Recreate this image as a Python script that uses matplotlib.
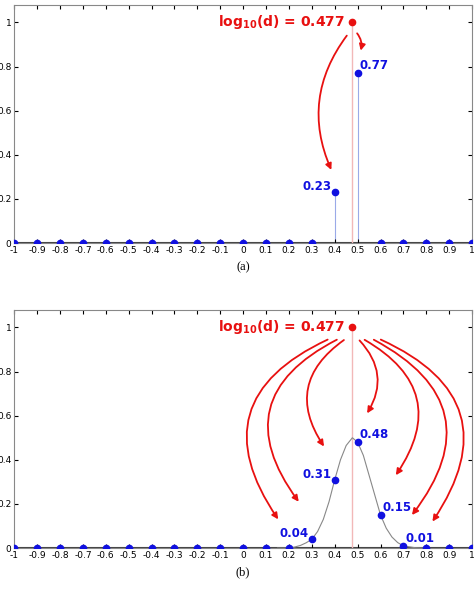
import numpy as np
import matplotlib.pyplot as plt

xs = [round(-1 + 0.1*i, 1) for i in range(21)]
vals_a = {0.4: 0.23, 0.5: 0.77}
vals_b = {0.3: 0.04, 0.4: 0.31, 0.5: 0.48, 0.6: 0.15, 0.7: 0.01}
curve_x = [0.15, 0.2, 0.225, 0.25, 0.275, 0.3, 0.325, 0.35, 0.375, 0.4, 0.425, 0.45, 0.477,
           0.5, 0.525, 0.55, 0.575, 0.6, 0.625, 0.65, 0.675, 0.7, 0.75, 0.8]
curve_y = [0.0, 0.0, 0.005, 0.012, 0.024, 0.04, 0.075, 0.13, 0.21, 0.31, 0.40, 0.465, 0.5,
           0.48, 0.42, 0.33, 0.24, 0.15, 0.09, 0.05, 0.025, 0.01, 0.002, 0.0]
log_d = 0.477
xtick_labels = ['-1', '-0.9', '-0.8', '-0.7', '-0.6', '-0.5', '-0.4', '-0.3', '-0.2', '-0.1',
                '0', '0.1', '0.2', '0.3', '0.4', '0.5', '0.6', '0.7', '0.8', '0.9', '1']

fig = plt.figure(figsize=(4.74, 5.9), dpi=100)
axa = fig.add_axes([0.03, 0.588, 0.966, 0.404])
axb = fig.add_axes([0.03, 0.071, 0.966, 0.404])

arrows_a = [((0.46, 0.95), (0.39, 0.32), 0.3), ((0.49, 0.96), (0.51, 0.86), -0.3)]
arrows_b = [((0.38, 0.95), (0.16, 0.12), 0.6), ((0.42, 0.95), (0.25, 0.2), 0.6),
            ((0.45, 0.95), (0.36, 0.45), 0.5), ((0.50, 0.95), (0.535, 0.60), -0.4),
            ((0.52, 0.95), (0.66, 0.32), -0.55), ((0.56, 0.95), (0.73, 0.14), -0.6),
            ((0.59, 0.95), (0.82, 0.11), -0.6)]

for ax, vals, arrows, lab in [(axa, vals_a, arrows_a, '(a)'), (axb, vals_b, arrows_b, '(b)')]:
    ys = [vals.get(x, 0) for x in xs]
    ax.axhline(0, color='#444444', lw=1.5, zorder=1)
    ax.plot([log_d, log_d], [0, 1], color='#f2b8b8', lw=1, zorder=1)
    if ax is axa:
        for x, v in vals.items():
            ax.plot([x, x], [0, v], color='#9aaae8', lw=0.8, zorder=1)
    else:
        ax.plot(curve_x, curve_y, color='#888888', lw=0.8, zorder=1)
    ax.plot(xs, ys, 'o', color='#1010e0', ms=4.5, zorder=3)
    ax.plot([log_d], [1], 'o', color='#e81010', ms=4.5, zorder=3)
    ax.text(log_d - 0.03, 1, r'$\mathbf{log_{10}(d)}$ = 0.477', color='#e81010',
            fontsize=10, fontweight='bold', ha='right', va='center')
    for x, v in vals.items():
        if x < log_d:
            ax.text(x - 0.015, v + 0.025, f'{v:.2f}', color='#1010e0', fontsize=8.5,
                    fontweight='bold', ha='right', va='center')
        else:
            ax.text(x + 0.01, v + 0.035, f'{v:.2f}', color='#1010e0', fontsize=8.5,
                    fontweight='bold', ha='left', va='center')
    for s, e, r in arrows:
        ax.annotate('', xy=e, xytext=s,
                    arrowprops=dict(arrowstyle='-|>', color='#e81010', lw=1.3,
                                    mutation_scale=9, connectionstyle=f'arc3,rad={r}'))
    ax.set_xlim(-1, 1)
    ax.set_ylim(0, 1.08)
    ax.set_xticks(xs)
    ax.set_xticklabels(xtick_labels)
    ax.set_yticks([0, 0.2, 0.4, 0.6, 0.8, 1])
    ax.set_yticklabels(['0', '0.2', '0.4', '0.6', '0.8', '1'])
    ax.tick_params(labelsize=6.5, direction='in', top=True, right=True, length=3, pad=2)
    for sp in ax.spines.values():
        sp.set_color('#888888')
    ax.text(0.5, -0.1, lab, transform=ax.transAxes, ha='center', va='center',
            fontsize=9, family='Liberation Serif')

fig.savefig('out.png', dpi=100)
